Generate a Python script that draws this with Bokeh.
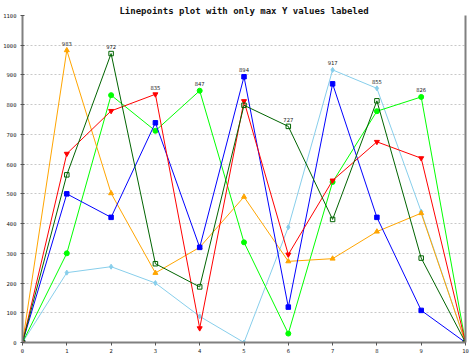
from bokeh.plotting import figure
from bokeh.models import Range1d, LinearAxis, FixedTicker, ColumnDataSource
from bokeh.core.properties import value
from bokeh.embed import file_html
from bokeh.resources import INLINE

x = [0, 1, 2, 3, 4, 5, 6, 7, 8, 9, 10]
skyblue = [0, 235, 255, 200, 88, 0, 388, 917, 855, 440, 0]
green = [0, 300, 832, 712, 847, 337, 30, 540, 778, 826, 0]
orange = [0, 983, 502, 234, 320, 490, 273, 282, 373, 435, 0]
blue = [0, 500, 421, 739, 320, 894, 119, 870, 421, 108, 0]
red = [0, 635, 779, 835, 48, 812, 296, 545, 675, 620, 0]
darkgreen = [0, 564, 972, 265, 187, 798, 727, 414, 813, 284, 0]
y_ticks = list(range(0, 1101, 100))
title_text = "Linepoints plot with only max Y values labeled"

series = [
    (skyblue, "#87CEEB", "diamond", True),
    (green, "#00FF00", "circle", True),
    (orange, "#FFA500", "triangle", True),
    (blue, "#0000FF", "square", True),
    (red, "#FF0000", "inverted_triangle", True),
    (darkgreen, "#006400", "square", False),
]

FONT = "DejaVu Sans Mono"

p = figure(width=474, height=355, output_backend="svg", toolbar_location=None,
           x_range=Range1d(0, 10), y_range=Range1d(0, 1100),
           min_border_left=21, min_border_right=9, min_border_top=15, min_border_bottom=13,
           title=title_text)
p.title.text_font = FONT
p.title.text_font_size = "9px"
p.title.text_font_style = "bold"
p.title.text_color = "#111111"
p.title.align = "center"
p.title.standoff = 0
p.title.offset = -6
p.outline_line_color = None
p.background_fill_color = "white"

for vals, col, mk, filled in series:
    p.line(x, vals, line_color=col, line_width=1)
    p.scatter(x, vals, marker=mk, size=5 if mk != "square" else 4.5,
              line_color=col, fill_color=col if filled else None, line_width=1)

# label only the max Y value at each interior x
lx, ly, lt = [], [], []
for i in range(1, len(x) - 1):
    m = max(s[0][i] for s in series)
    lx.append(x[i]); ly.append(m); lt.append(str(m))
src = ColumnDataSource(dict(x=lx, y=ly, t=lt))
p.text("x", "y", text="t", source=src, text_font=value(FONT), text_font_size="5.5px",
       text_align="center", text_baseline="middle", y_offset=-7, text_color="#222222")

# axes
p.xaxis.ticker = FixedTicker(ticks=x)
p.yaxis.ticker = FixedTicker(ticks=y_ticks)
for ax in (p.xaxis, p.yaxis):
    ax.major_label_text_font = FONT
    ax.major_label_text_font_size = "5.5px"
    ax.major_label_text_color = "#222222"
    ax.minor_tick_line_color = None
    ax.axis_line_color = "#808080"
    ax.major_tick_line_color = "#555555"
p.yaxis.axis_line_width = 2
p.yaxis.major_tick_in = 2
p.yaxis.major_tick_out = 2
p.yaxis.major_label_standoff = 4
p.xaxis.axis_line_width = 2
p.xaxis.major_tick_in = 0
p.xaxis.major_tick_out = 3
p.xaxis.major_label_standoff = 2

right = LinearAxis(axis_line_color="#808080", axis_line_width=2,
                   major_tick_line_color=None, minor_tick_line_color=None,
                   major_label_text_font_size="0px", ticker=FixedTicker(ticks=[]))
p.add_layout(right, "right")

p.xgrid.grid_line_color = None
p.ygrid.ticker = FixedTicker(ticks=y_ticks)
p.ygrid.grid_line_color = "#c8c8c8"
p.ygrid.grid_line_dash = "2 2"

open("out.html", "w").write(file_html(p, INLINE))
